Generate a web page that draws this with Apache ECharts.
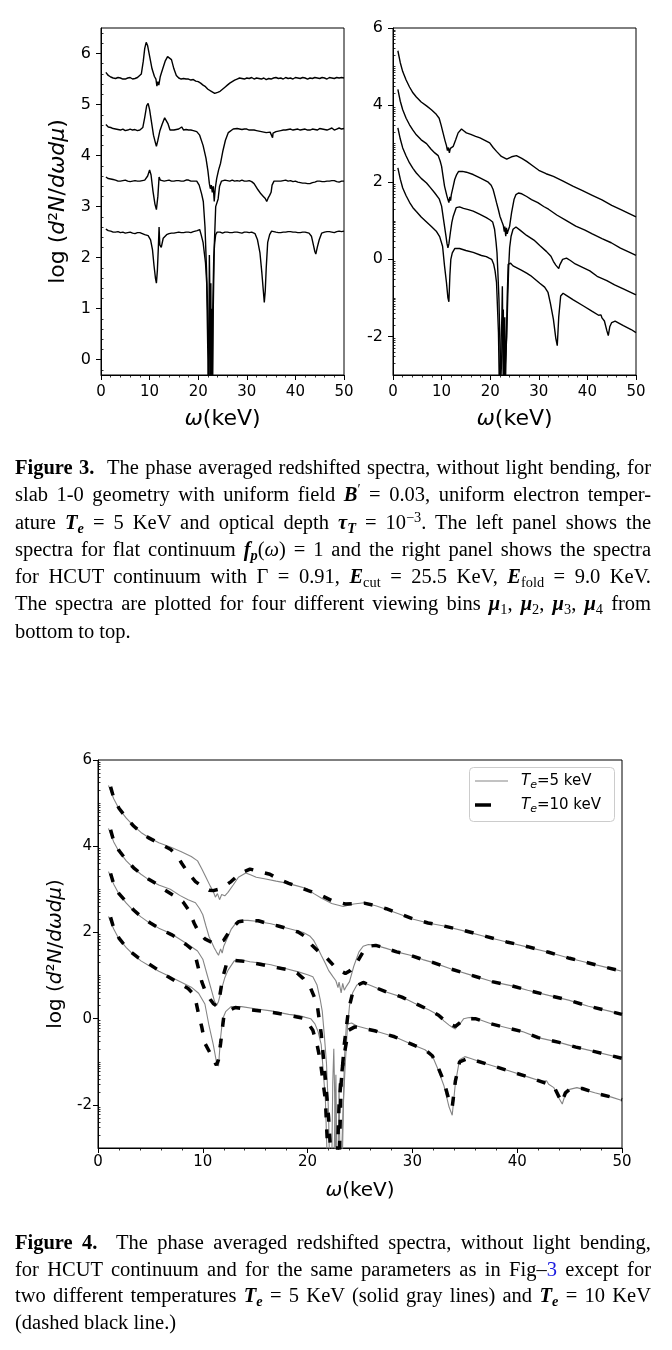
<!DOCTYPE html>
<html><head><meta charset="utf-8">
<script src="https://cdn.jsdelivr.net/npm/echarts@6/dist/echarts.min.js"></script>
<style>
html,body{margin:0;padding:0;background:#fff;}
#chart{position:absolute;left:0;top:0;width:672px;height:1350px;}
.cap{position:absolute;left:15px;width:636px;font-family:"Liberation Serif","Times New Roman",serif;font-size:20.5px;color:#000;}
.cap .l{display:block;white-space:nowrap;text-align:justify;text-align-last:justify;}
.cap .l.last{text-align-last:left;}
.cap b{font-weight:bold;}
.cap sub{font-size:70%;vertical-align:-0.25em;line-height:0;}
.cap sup{font-size:70%;vertical-align:0.5em;line-height:0;}
.bi{font-weight:bold;font-style:italic;}
.it{font-style:italic;}
.lnk{color:#1a1adf;}
</style></head>
<body>
<div id="chart"></div>
<div class="cap" id="cap3" style="top:454px;line-height:27.3px;">
<span class="l"><b>Figure 3.</b>&nbsp; The phase averaged redshifted spectra, without light bending, for</span>
<span class="l">slab 1-0 geometry with uniform field <span class="bi">B</span><sup>′</sup> = 0.03, uniform electron temper-</span>
<span class="l">ature <span class="bi">T<sub>e</sub></span> = 5 KeV and optical depth <span class="bi">τ<sub>T</sub></span> = 10<sup>−3</sup>. The left panel shows the</span>
<span class="l">spectra for flat continuum <span class="bi">f<sub>p</sub></span>(<span class="it">ω</span>) = 1 and the right panel shows the spectra</span>
<span class="l">for HCUT continuum with Γ = 0.91, <span class="bi">E</span><sub>cut</sub> = 25.5 KeV, <span class="bi">E</span><sub>fold</sub> = 9.0 KeV.</span>
<span class="l">The spectra are plotted for four different viewing bins <span class="bi">μ</span><sub>1</sub>, <span class="bi">μ</span><sub>2</sub>, <span class="bi">μ</span><sub>3</sub>, <span class="bi">μ</span><sub>4</sub> from</span>
<span class="l last">bottom to top.</span>
</div>
<div class="cap" id="cap4" style="top:1229px;line-height:26.7px;">
<span class="l"><b>Figure 4.</b>&nbsp; The phase averaged redshifted spectra, without light bending,</span>
<span class="l">for HCUT continuum and for the same parameters as in Fig–<span class="lnk">3</span> except for</span>
<span class="l">two different temperatures <span class="bi">T<sub>e</sub></span> = 5 KeV (solid gray lines) and <span class="bi">T<sub>e</sub></span> = 10 KeV</span>
<span class="l last">(dashed black line.)</span>
</div>
<script>
// ---------- tick labels ----------
const X_TICKS = [0, 10, 20, 30, 40, 50];
const FLAT_Y_TICKS = [0, 1, 2, 3, 4, 5, 6];
const HCUT_Y_TICKS = [-2, 0, 2, 4, 6];

// ---------- Figure 3 left: flat continuum (keV, log value) ----------
const FLAT_MU4 = [[1.0,5.63],[1.5,5.57],[2,5.54],[2.5,5.52],[3,5.51],[3.5,5.53],[4,5.52],[4.5,5.5],[5,5.50],[5.5,5.52],[6,5.53],[6.5,5.5],[7,5.51],[7.5,5.53],[7.8,5.52],[8.3,5.6],[8.7,5.85],[9.0,6.1],[9.3,6.22],[9.6,6.15],[10.0,5.95],[10.5,5.7],[11.0,5.55],[11.3,5.5],[11.5,5.36],[11.7,5.45],[11.9,5.38],[12.2,5.55],[12.7,5.7],[13.2,5.85],[13.7,5.94],[14.1,5.95],[14.5,5.88],[15,5.7],[15.5,5.57],[16,5.52],[16.5,5.5],[17,5.51],[17.5,5.5],[18,5.50],[18.5,5.48],[19,5.49],[19.5,5.46],[20,5.45],[20.5,5.42],[21,5.38],[21.5,5.35],[22,5.30],[22.7,5.26],[23.4,5.22],[24,5.24],[24.5,5.26],[25,5.3],[25.5,5.34],[26,5.38],[26.5,5.42],[27,5.45],[27.5,5.48],[28,5.5],[28.5,5.52],[29,5.51],[29.5,5.5],[30,5.52],[30.5,5.51],[31,5.53],[31.5,5.5],[32,5.52],[32.5,5.51],[33,5.5],[33.5,5.52],[34,5.49],[34.5,5.51],[35,5.5],[35.5,5.52],[36,5.53],[36.5,5.51],[37,5.52],[37.5,5.5],[38,5.53],[38.5,5.51],[39,5.52],[39.5,5.5],[40,5.53],[40.5,5.52],[41,5.51],[41.5,5.53],[42,5.52],[42.5,5.5],[43,5.52],[43.5,5.51],[44,5.53],[44.5,5.52],[45,5.51],[45.5,5.53],[46,5.52],[46.5,5.5],[47,5.53],[47.5,5.52],[48,5.51],[48.5,5.53],[49,5.52],[49.5,5.53],[50,5.52]];
const FLAT_MU3 = [[1,4.61],[1.5,4.56],[2,4.55],[2.5,4.53],[3,4.52],[3.5,4.51],[4,4.50],[4.5,4.52],[5,4.49],[5.5,4.5],[6,4.52],[6.5,4.5],[7,4.51],[7.5,4.49],[8,4.50],[8.6,4.55],[9.0,4.75],[9.4,4.98],[9.7,5.02],[10.0,4.9],[10.4,4.65],[10.8,4.4],[11.2,4.25],[11.4,4.18],[11.7,4.3],[12.1,4.48],[12.6,4.62],[13.1,4.74],[13.4,4.74],[13.8,4.62],[14.2,4.5],[14.6,4.51],[15,4.5],[15.5,4.51],[16,4.52],[16.6,4.56],[17,4.5],[17.5,4.51],[18,4.5],[18.5,4.5],[19,4.49],[19.7,4.47],[20.3,4.4],[21,4.2],[21.6,3.95],[22.0,3.7],[22.3,3.45],[22.5,3.35],[22.7,3.42],[22.9,3.28],[23.1,3.4],[23.3,3.1],[23.5,3.35],[23.8,3.55],[24.2,3.72],[24.6,3.85],[25.1,4.1],[25.6,4.3],[26.2,4.45],[27.2,4.52],[28,4.53],[28.5,4.52],[29,4.51],[29.5,4.52],[30,4.52],[30.5,4.5],[31,4.50],[31.5,4.5],[32,4.49],[32.5,4.48],[33,4.47],[33.5,4.46],[34,4.45],[34.8,4.46],[35.2,4.44],[35.3,4.35],[35.4,4.44],[36,4.47],[36.5,4.48],[37,4.49],[37.5,4.5],[38,4.5],[38.5,4.51],[39,4.52],[39.5,4.5],[40,4.51],[40.5,4.52],[41,4.50],[41.5,4.51],[42,4.52],[42.5,4.5],[43,4.5],[43.5,4.52],[44,4.51],[44.5,4.5],[45,4.53],[45.5,4.52],[46,4.51],[46.5,4.5],[47,4.52],[47.5,4.54],[48,4.5],[48.5,4.52],[49,4.54],[49.5,4.52],[50,4.53]];
const FLAT_MU2 = [[1,3.58],[1.5,3.55],[2,3.54],[2.5,3.53],[3,3.52],[3.5,3.5],[4,3.5],[4.5,3.51],[5,3.52],[5.5,3.5],[6,3.49],[6.5,3.5],[7,3.51],[7.5,3.5],[8,3.5],[8.5,3.51],[9,3.52],[9.6,3.6],[10.0,3.72],[10.3,3.62],[10.7,3.3],[11.1,3.05],[11.4,2.94],[11.7,3.2],[11.95,3.58],[12.2,3.52],[12.6,3.51],[13,3.5],[13.5,3.51],[14,3.52],[14.5,3.5],[15,3.5],[15.5,3.51],[16,3.51],[16.5,3.5],[17,3.5],[17.5,3.52],[18,3.52],[18.5,3.5],[19,3.5],[19.7,3.5],[20.2,3.42],[20.7,3.25],[21.05,3.1],[21.4,2.6],[21.7,1.8],[22.0,0.8],[22.2,0.0],[22.3,-1.0],[22.9,-1.0],[23.1,1.0],[23.3,2.2],[23.6,3.0],[24.1,3.15],[24.4,3.4],[24.8,3.5],[25.5,3.52],[26,3.51],[26.5,3.5],[27,3.52],[27.5,3.5],[28,3.51],[28.5,3.5],[29,3.52],[29.5,3.5],[30,3.5],[30.5,3.51],[31,3.49],[31.5,3.45],[32.3,3.33],[32.9,3.25],[33.4,3.2],[33.8,3.16],[34.1,3.1],[34.4,3.17],[34.7,3.22],[35.0,3.28],[35.2,3.42],[35.6,3.5],[36,3.52],[36.5,3.5],[37,3.5],[37.5,3.51],[38,3.52],[38.5,3.5],[39,3.51],[39.5,3.49],[40,3.5],[40.5,3.48],[41,3.47],[41.5,3.46],[42,3.46],[42.5,3.45],[43,3.45],[43.5,3.47],[44,3.48],[44.5,3.5],[45,3.5],[45.5,3.49],[46,3.49],[46.5,3.5],[47,3.5],[47.5,3.51],[48,3.51],[48.5,3.49],[49,3.48],[49.5,3.5],[50,3.5]];
const FLAT_MU1 = [[1,2.56],[1.5,2.53],[2,2.52],[2.5,2.5],[3,2.5],[3.5,2.51],[4,2.49],[4.5,2.5],[5,2.48],[5.5,2.49],[6,2.5],[6.5,2.48],[7,2.47],[7.5,2.49],[8,2.49],[8.5,2.47],[9,2.45],[9.7,2.43],[10.2,2.35],[10.6,2.15],[10.9,1.85],[11.2,1.6],[11.4,1.5],[11.6,1.75],[11.8,2.2],[11.95,2.6],[12.1,2.25],[12.4,2.2],[12.8,2.38],[13.5,2.45],[14,2.47],[14.5,2.48],[15,2.48],[15.5,2.49],[16,2.5],[16.5,2.49],[17,2.49],[17.5,2.5],[18,2.5],[18.5,2.49],[19,2.51],[19.8,2.53],[20.3,2.55],[20.6,2.45],[21.0,2.3],[21.5,1.9],[21.75,1.5],[21.9,0.6],[22.0,0.0],[22.05,-1.0],[22.2,0.5],[22.3,2.05],[22.4,1.3],[22.5,-1.0],[22.6,1.5],[22.7,-1.0],[22.8,1.0],[22.9,-1.0],[23.0,1.0],[23.1,1.5],[23.2,2.0],[23.4,2.3],[23.6,2.45],[23.9,2.5],[24.5,2.5],[25,2.48],[25.5,2.5],[26,2.5],[26.5,2.49],[27,2.49],[27.5,2.5],[28,2.5],[28.5,2.49],[29,2.48],[29.5,2.5],[30,2.5],[30.5,2.49],[31,2.5],[31.7,2.47],[32.2,2.35],[32.7,2.1],[33.1,1.7],[33.4,1.35],[33.6,1.12],[33.8,1.35],[34.0,1.8],[34.3,2.3],[34.7,2.45],[35.1,2.52],[35.5,2.5],[36,2.5],[36.5,2.49],[37,2.49],[37.5,2.5],[38,2.5],[38.5,2.51],[39,2.51],[39.5,2.5],[40,2.5],[40.5,2.49],[41,2.49],[41.5,2.5],[42,2.5],[42.8,2.48],[43.3,2.42],[43.7,2.25],[44.0,2.12],[44.2,2.07],[44.5,2.2],[44.9,2.35],[45.4,2.48],[46,2.5],[46.5,2.51],[47,2.51],[47.5,2.5],[48,2.49],[48.5,2.51],[49,2.52],[49.5,2.51],[50,2.52]];

// ---------- HCUT continuum, Te = 5 keV (Fig 3 right, Fig 4 gray) ----------
const HCUT_T5_MU4 = [[1.0,5.41],[1.5,5.1],[2.0,4.87],[2.7,4.65],[3.4,4.47],[4.1,4.32],[4.8,4.21],[5.8,4.08],[6.9,3.98],[7.9,3.88],[8.9,3.76],[9.5,3.66],[9.9,3.48],[10.3,3.28],[10.7,3.08],[11.0,2.95],[11.2,2.82],[11.4,2.9],[11.6,2.76],[11.8,2.88],[12.1,2.85],[12.4,2.93],[12.9,3.1],[13.4,3.28],[14.1,3.38],[14.6,3.33],[15.1,3.28],[16,3.24],[17,3.19],[17.9,3.15],[19,3.08],[19.9,3.02],[20.6,2.9],[21.3,2.8],[22.3,2.67],[23.4,2.6],[24.4,2.66],[25.4,2.69],[26.5,2.62],[27.5,2.54],[28.8,2.42],[30,2.31],[31.5,2.22],[33,2.15],[35,2.03],[37,1.9],[39,1.78],[41,1.66],[43,1.54],[45,1.4],[47,1.28],[48.5,1.19],[50,1.1]];
const HCUT_T5_MU3 = [[1.0,4.41],[1.5,4.1],[2.0,3.88],[2.7,3.66],[3.4,3.49],[4.1,3.35],[4.8,3.23],[5.8,3.1],[6.9,3.0],[7.8,2.86],[8.6,2.76],[9.3,2.69],[9.7,2.55],[10.0,2.41],[10.3,2.15],[10.6,1.9],[11.1,1.64],[11.3,1.55],[11.5,1.47],[11.7,1.62],[11.85,1.52],[12.0,1.68],[12.4,1.9],[12.7,2.07],[13.1,2.2],[13.5,2.28],[14.3,2.28],[15.1,2.26],[16.5,2.2],[17.9,2.11],[19.0,2.04],[19.6,2.0],[20.2,1.92],[20.6,1.81],[21.0,1.62],[21.3,1.47],[21.7,1.28],[22.0,1.12],[22.4,0.98],[22.7,0.88],[22.9,0.72],[23.0,0.85],[23.2,0.6],[23.35,0.82],[23.5,0.66],[23.7,0.75],[24.0,0.86],[24.4,1.21],[24.9,1.55],[25.3,1.68],[25.8,1.72],[26.5,1.7],[27.5,1.63],[28.5,1.55],[29.8,1.47],[31,1.37],[32,1.3],[33.7,1.15],[35.6,1.01],[37.6,0.86],[39.5,0.76],[41,0.66],[43,0.54],[44.9,0.43],[46.8,0.29],[48.7,0.18],[50,0.1]];
const HCUT_T5_MU2 = [[1.0,3.41],[1.5,3.12],[2.0,2.89],[2.7,2.68],[3.4,2.5],[4.1,2.36],[4.8,2.24],[5.8,2.1],[6.9,1.98],[7.7,1.86],[8.6,1.72],[9.5,1.57],[10.0,1.38],[10.4,1.03],[10.9,0.6],[11.1,0.42],[11.3,0.3],[11.5,0.4],[11.8,0.69],[12.1,0.95],[12.4,1.12],[13.0,1.34],[13.7,1.36],[14.5,1.32],[15.5,1.29],[16.5,1.25],[17.8,1.17],[19.2,1.08],[20.0,1.02],[20.5,0.97],[20.9,0.78],[21.2,0.45],[21.4,0.17],[21.6,-0.4],[21.8,-1.03],[22.0,-2.2],[22.1,-3.5],[22.5,-3.5],[22.7,-1.3],[22.8,-3.5],[23.2,-3.5],[23.4,-2.0],[23.6,-1.03],[23.8,-0.2],[24.0,0.3],[24.3,0.6],[24.7,0.78],[25.3,0.84],[26.2,0.75],[27.5,0.62],[29.0,0.5],[30.2,0.36],[31.6,0.2],[32.5,0.08],[33.0,-0.05],[33.5,-0.15],[33.8,-0.2],[34.1,-0.24],[34.3,-0.15],[34.6,-0.1],[34.9,0.0],[35.3,0.02],[35.7,0.03],[36.5,-0.03],[37.5,-0.12],[39,-0.21],[40.5,-0.3],[42,-0.44],[44,-0.55],[45.6,-0.66],[47.5,-0.77],[50,-0.92]];
const HCUT_T5_MU1 = [[1.0,2.37],[1.5,2.08],[2.0,1.85],[2.7,1.65],[3.4,1.48],[4.1,1.34],[4.8,1.24],[5.8,1.1],[6.9,0.97],[7.9,0.85],[8.9,0.73],[9.6,0.59],[10.2,0.34],[10.6,-0.17],[11.0,-0.6],[11.3,-1.0],[11.5,-1.1],[11.7,-0.43],[11.9,0.0],[12.2,0.17],[12.7,0.28],[13.7,0.28],[15,0.23],[16.5,0.18],[18.2,0.1],[19.2,0.07],[19.8,0.03],[20.3,0.0],[20.7,-0.12],[21.0,-0.3],[21.3,-0.6],[21.7,-1.9],[21.9,-3.5],[22.3,-3.5],[22.4,-1.5],[22.5,-0.7],[22.6,-2.0],[22.7,-3.5],[22.9,-3.5],[23.0,-1.5],[23.1,-3.5],[23.3,-3.5],[23.5,-1.0],[23.7,-0.13],[24.2,-0.1],[24.7,-0.17],[26.4,-0.28],[27.5,-0.36],[28.3,-0.42],[30.2,-0.62],[31.2,-0.72],[31.9,-0.86],[32.4,-1.15],[33.0,-1.55],[33.5,-2.05],[33.8,-2.24],[34.1,-1.5],[34.5,-0.95],[35.0,-0.88],[35.5,-0.92],[37.1,-1.05],[39.2,-1.21],[41.0,-1.35],[42.3,-1.45],[42.8,-1.44],[43.0,-1.52],[43.5,-1.6],[44.0,-1.85],[44.3,-1.98],[44.6,-1.75],[45.0,-1.64],[45.7,-1.6],[47.4,-1.72],[49,-1.82],[50,-1.9]];

// ---------- HCUT continuum, Te = 10 keV (Fig 4 dashed) ----------
const HCUT_T10_MU4 = [[1.2,5.38],[1.5,5.12],[2.0,4.88],[2.7,4.66],[3.4,4.47],[4.1,4.32],[4.8,4.2],[5.8,4.07],[6.9,3.93],[7.5,3.8],[8.0,3.6],[8.6,3.38],[9.3,3.18],[10.0,3.06],[10.6,2.98],[11.0,2.97],[11.5,3.0],[12.0,3.06],[12.7,3.18],[13.5,3.36],[14.5,3.47],[15.3,3.42],[16.4,3.35],[17.2,3.24],[18.2,3.14],[19.2,3.05],[20.2,2.96],[21.3,2.86],[22.3,2.74],[22.9,2.7],[23.6,2.66],[24.4,2.67],[25.4,2.68],[26.5,2.62],[27.5,2.55],[28.8,2.43],[30,2.32],[31.5,2.22],[33,2.15],[35,2.04],[37,1.91],[39,1.78],[41,1.67],[43,1.54],[45,1.4],[47,1.28],[48.5,1.19],[50,1.1]];
const HCUT_T10_MU3 = [[1.2,4.38],[1.5,4.12],[2.0,3.9],[2.7,3.68],[3.4,3.5],[4.1,3.36],[4.8,3.24],[5.8,3.1],[6.4,2.98],[7.2,2.86],[8.1,2.71],[8.7,2.5],[9.2,2.2],[9.6,2.01],[10.2,1.85],[11.0,1.75],[11.5,1.76],[12.0,1.82],[12.6,2.05],[13.4,2.25],[14.3,2.28],[15.3,2.27],[16.3,2.2],[17.2,2.15],[18.2,2.08],[19.1,2.01],[19.8,1.9],[20.4,1.71],[21.0,1.57],[21.7,1.44],[22.6,1.2],[23.2,1.1],[23.6,1.05],[24.1,1.12],[24.7,1.3],[25.3,1.55],[25.8,1.68],[26.5,1.7],[27.5,1.63],[28.5,1.55],[29.8,1.47],[31,1.37],[32,1.3],[33.7,1.15],[35.6,1.01],[37.6,0.86],[39.5,0.76],[41,0.66],[43,0.54],[44.9,0.43],[46.8,0.29],[48.7,0.18],[50,0.1]];
const HCUT_T10_MU2 = [[1.2,3.37],[1.5,3.12],[2.0,2.9],[2.7,2.71],[3.4,2.52],[4.2,2.35],[5.0,2.22],[6.1,2.06],[7.0,1.95],[7.7,1.85],[8.4,1.72],[9.0,1.6],[9.3,1.45],[9.6,1.15],[9.9,0.86],[10.3,0.6],[10.7,0.45],[11.0,0.35],[11.3,0.3],[11.6,0.5],[11.9,0.95],[12.3,1.3],[12.8,1.36],[14.3,1.32],[16.3,1.22],[18.2,1.13],[19.0,1.06],[19.6,0.93],[20.3,0.7],[20.9,0.35],[21.3,-0.35],[21.7,-1.4],[22.0,-2.28],[22.3,-3.5],[23.0,-3.5],[23.2,-1.5],[23.5,-0.6],[23.9,0.2],[24.3,0.6],[24.8,0.78],[25.3,0.84],[26.2,0.75],[27.5,0.62],[29.0,0.5],[30.2,0.36],[31.6,0.2],[32.5,0.08],[33.0,-0.03],[33.5,-0.12],[34.1,-0.18],[34.6,-0.08],[35.3,0.0],[36.0,0.0],[37.5,-0.12],[39,-0.21],[40.5,-0.3],[42,-0.44],[44,-0.55],[45.6,-0.66],[47.5,-0.77],[50,-0.92]];
const HCUT_T10_MU1 = [[1.2,2.35],[1.5,2.1],[2.0,1.87],[2.9,1.59],[3.8,1.42],[4.8,1.28],[5.8,1.12],[6.7,0.97],[7.6,0.84],[8.6,0.7],[9.0,0.6],[9.3,0.45],[9.6,0.1],[9.9,-0.19],[10.2,-0.57],[10.7,-0.8],[11.0,-0.95],[11.3,-1.08],[11.5,-0.95],[11.7,-0.57],[12.0,0.04],[12.6,0.2],[13.1,0.26],[14.3,0.21],[16.3,0.16],[18.2,0.08],[19.0,0.04],[19.75,0.0],[20.5,-0.27],[20.9,-0.6],[21.2,-0.96],[21.7,-1.89],[22.0,-3.5],[22.8,-3.5],[23.0,-2.0],[23.2,-1.4],[23.4,-0.96],[23.9,-0.27],[24.5,-0.19],[26.4,-0.28],[28.3,-0.42],[30.2,-0.62],[31.2,-0.72],[31.9,-0.86],[32.4,-1.1],[33.0,-1.45],[33.5,-1.9],[33.8,-2.05],[34.1,-1.45],[34.5,-1.0],[35.3,-0.92],[37.2,-1.06],[39.2,-1.21],[41.0,-1.35],[43.0,-1.52],[43.6,-1.62],[44.0,-1.82],[44.25,-1.95],[44.6,-1.72],[45.0,-1.64],[46.2,-1.62],[47.8,-1.75],[49.7,-1.86],[50,-1.88]];

const LEG_T5 = '{i|T}{s|e}{r|=5 keV}';
const LEG_T10 = '{i|T}{s|e}{r|=10 keV}';

// ---------- styling helpers ----------
const FONT = 'DejaVu Sans';
const GRAY = '#858585';
function evenMinor(lo, hi, step) {
  const out = [];
  for (let i = Math.ceil(lo / step); i * step <= hi + 1e-9; i++) {
    const v = +(i * step).toFixed(4);
    if (Math.abs(v - Math.round(v)) > 1e-6) out.push(v);
  }
  return out;
}
function logMinor(lo, hi) {
  const out = [];
  for (let n = Math.floor(lo) - 1; n <= Math.ceil(hi); n++) {
    if (n % 2 !== 0 && n > lo && n < hi) out.push(n);
    for (let k = 2; k <= 9; k++) {
      const v = n + Math.log10(k);
      if (v > lo && v < hi) out.push(v);
    }
  }
  return out;
}
function xAxisCfg(gi, fs, nameFs, gap, margin) {
  return {
    type: 'value', gridIndex: gi, min: 0, max: 50, interval: 10,
    axisLine: { show: true, onZero: false, lineStyle: { color: '#000', width: 1 } },
    axisTick: { show: true, inside: false, length: 5, lineStyle: { color: '#000', width: 1 } },
    minorTick: { show: true, splitNumber: 5, length: 2.5, lineStyle: { color: '#000', width: 0.8 } },
    splitLine: { show: false },
    axisLabel: { color: '#000', fontFamily: FONT, fontSize: fs, margin: margin, customValues: X_TICKS },
    name: '{i|ω}{r|(keV)}', nameLocation: 'middle', nameGap: gap,
    nameTextStyle: { rich: {
      i: { fontFamily: FONT, fontStyle: 'italic', fontSize: nameFs, color: '#000' },
      r: { fontFamily: FONT, fontSize: nameFs, color: '#000' } } }
  };
}
function yMajor(gi, min, max, ticks, fs, nameFs, gap, margin) {
  return {
    type: 'value', gridIndex: gi, min, max,
    axisLine: { show: true, onZero: false, lineStyle: { color: '#000', width: 1 } },
    axisTick: { show: true, inside: false, length: 5, customValues: ticks, lineStyle: { color: '#000', width: 1 } },
    splitLine: { show: false },
    axisLabel: { color: '#000', fontFamily: FONT, fontSize: fs, margin: margin, customValues: ticks,
      formatter: v => String(v) },
    name: '{r|log (}{i|d}{r|²}{i|N}{r|/}{i|dωdμ}{r|)}', nameLocation: 'middle', nameGap: gap, nameRotate: 90,
    nameTextStyle: { rich: {
      i: { fontFamily: FONT, fontStyle: 'italic', fontSize: nameFs, color: '#000' },
      r: { fontFamily: FONT, fontSize: nameFs, color: '#000' } } }
  };
}
function yMinor(gi, min, max, ticks) {
  return {
    type: 'value', gridIndex: gi, min, max,
    axisLine: { show: false },
    axisTick: { show: true, inside: false, length: 2.5, customValues: ticks, lineStyle: { color: '#000', width: 0.8 } },
    splitLine: { show: false },
    axisLabel: { show: false }
  };
}
function line(data, gi, color, width, type, name, z) {
  return {
    type: 'line', name: name, xAxisIndex: gi, yAxisIndex: gi * 2, data: data,
    symbol: 'none', showSymbol: false, clip: true, animation: false, z: z || 2,
    lineStyle: { color: color, width: width, type: type, cap: 'butt' },
    itemStyle: { color: color },
    emphasis: { disabled: true }
  };
}
const legRich = {
  i: { fontFamily: FONT, fontStyle: 'italic', fontSize: 15, fill: '#000', lineHeight: 18 },
  s: { fontFamily: FONT, fontStyle: 'italic', fontSize: 11, fill: '#000', lineHeight: 18, padding: [9, 0, 0, 0] },
  r: { fontFamily: FONT, fontSize: 15, fill: '#000', lineHeight: 18 }
};

const chart = echarts.init(document.getElementById('chart'), null, { renderer: 'canvas' });
const option = {
  backgroundColor: '#fff',
  animation: false,
  grid: [
    { left: 101, top: 28, width: 243, height: 347, show: true, borderColor: '#000', borderWidth: 1, containLabel: false },
    { left: 393, top: 28, width: 243, height: 347, show: true, borderColor: '#000', borderWidth: 1, containLabel: false },
    { left: 98, top: 760, width: 524, height: 388, show: true, borderColor: '#000', borderWidth: 1, containLabel: false }
  ],
  xAxis: [ xAxisCfg(0, 15, 22, 33, 10), xAxisCfg(1, 15, 22, 33, 10), xAxisCfg(2, 15, 20, 33, 7) ],
  yAxis: [
    yMajor(0, -0.3, 6.5, FLAT_Y_TICKS, 16, 22, 32, 10), yMinor(0, -0.3, 6.5, evenMinor(-0.3, 6.5, 0.2)),
    Object.assign(yMajor(1, -3, 6, HCUT_Y_TICKS, 16, 22, 32, 10), { name: '' }), yMinor(1, -3, 6, logMinor(-3, 6)),
    yMajor(2, -3, 6, HCUT_Y_TICKS, 15, 20, 30, 6), yMinor(2, -3, 6, logMinor(-3, 6))
  ],
  graphic: [
    { type: 'rect', left: 469, top: 767, z: 50,
      shape: { width: 145, height: 54, r: 4 },
      style: { fill: 'rgba(255,255,255,0.85)', stroke: '#cccccc', lineWidth: 1 } },
    { type: 'line', z: 51, shape: { x1: 475, y1: 781, x2: 508, y2: 781 },
      style: { stroke: GRAY, lineWidth: 1.2 } },
    { type: 'line', z: 51, shape: { x1: 475, y1: 805, x2: 491, y2: 805 },
      style: { stroke: '#000', lineWidth: 3.5 } },
    { type: 'text', z: 51, left: 521, top: 771,
      style: { text: LEG_T5, rich: legRich, fill: '#000' } },
    { type: 'text', z: 51, left: 521, top: 795,
      style: { text: LEG_T10, rich: legRich, fill: '#000' } }
  ],
  series: [
    line(FLAT_MU4, 0, '#000', 1.4, 'solid', 'flat μ4'),
    line(FLAT_MU3, 0, '#000', 1.4, 'solid', 'flat μ3'),
    line(FLAT_MU2, 0, '#000', 1.4, 'solid', 'flat μ2'),
    line(FLAT_MU1, 0, '#000', 1.4, 'solid', 'flat μ1'),
    line(HCUT_T5_MU4, 1, '#000', 1.4, 'solid', 'HCUT μ4'),
    line(HCUT_T5_MU3, 1, '#000', 1.4, 'solid', 'HCUT μ3'),
    line(HCUT_T5_MU2, 1, '#000', 1.4, 'solid', 'HCUT μ2'),
    line(HCUT_T5_MU1, 1, '#000', 1.4, 'solid', 'HCUT μ1'),
    line(HCUT_T5_MU4, 2, GRAY, 1.1, 'solid', 'Te=5 keV', 2),
    line(HCUT_T5_MU3, 2, GRAY, 1.1, 'solid', 'Te=5 keV', 2),
    line(HCUT_T5_MU2, 2, GRAY, 1.1, 'solid', 'Te=5 keV', 2),
    line(HCUT_T5_MU1, 2, GRAY, 1.1, 'solid', 'Te=5 keV', 2),
    line(HCUT_T10_MU4, 2, '#000', 3.5, [9, 12], 'Te=10 keV', 3),
    line(HCUT_T10_MU3, 2, '#000', 3.5, [9, 12], 'Te=10 keV', 3),
    line(HCUT_T10_MU2, 2, '#000', 3.5, [9, 12], 'Te=10 keV', 3),
    line(HCUT_T10_MU1, 2, '#000', 3.5, [9, 12], 'Te=10 keV', 3)
  ]
};
chart.setOption(option);
</script>
</body></html>
